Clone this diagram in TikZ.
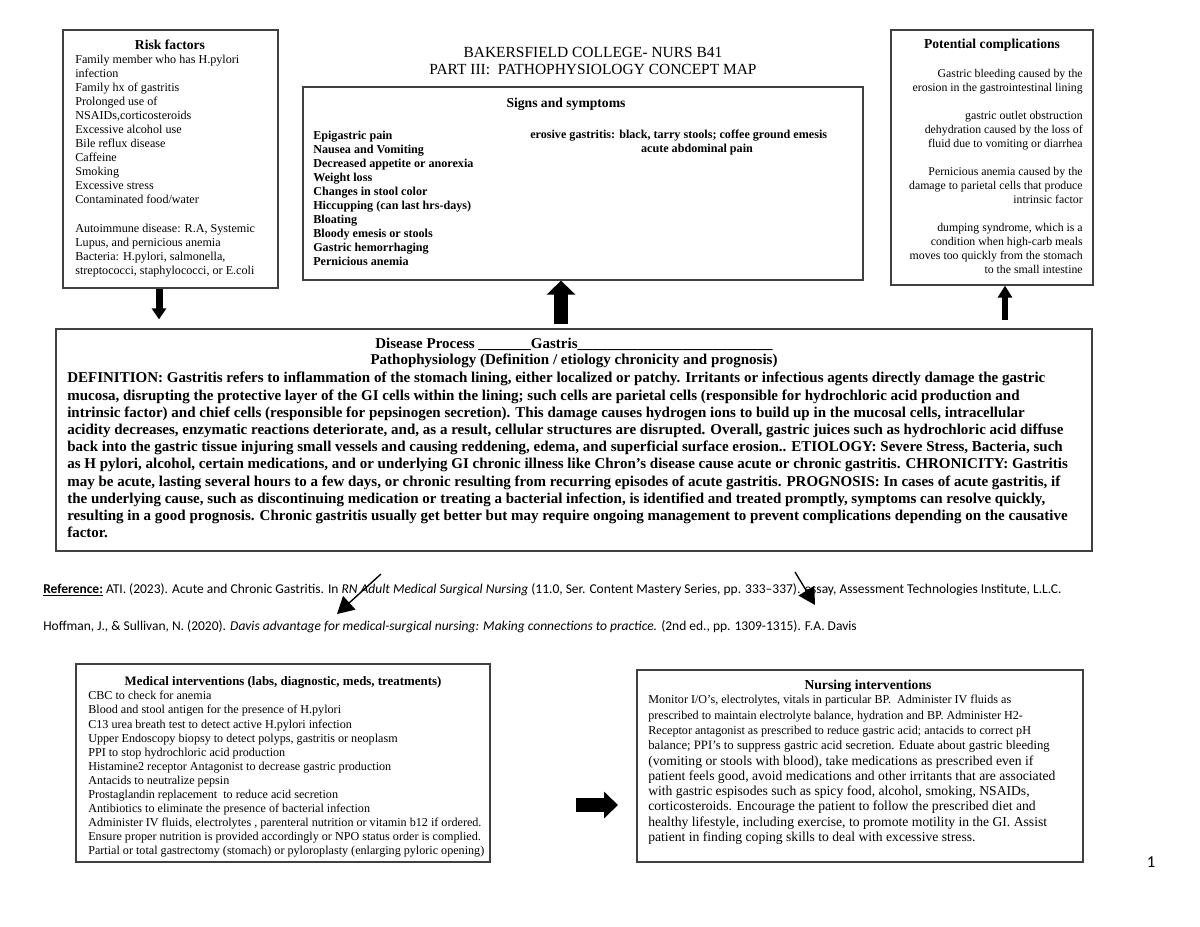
\documentclass[tikz,border=0pt]{standalone}
\usepackage{fontspec}
\setmainfont{Liberation Serif}
\newfontfamily\calibri{Carlito}
\usetikzlibrary{arrows.meta,fit,calc}
\newcommand\setfs[2]{\fontsize{#1}{#2}\selectfont}
\begin{document}
\begin{tikzpicture}[x=0.66pt,y=-0.66pt,
  box/.style={draw=black!75, line width=0.85pt, inner sep=0pt},
  txt/.style={inner sep=0pt, align=left, anchor=north west},
  ttl/.style={inner sep=0pt, font=\bfseries\setfs{9}{10}},
  blkA/.style={line width=4.62pt, -{Triangle[width=9.24pt,length=7.26pt]}},
  blkB/.style={line width=9.24pt, -{Triangle[width=18.5pt,length=9.24pt]}},
  blkC/.style={line width=3.96pt, -{Triangle[width=9.24pt,length=7.9pt]}},
  blkD/.style={line width=8.6pt, -{Triangle[width=17.2pt,length=9.24pt]}},
  thinarr/.style={line width=0.9pt, -{Triangle[width=12pt,length=11pt]}}
]
\useasboundingbox[fill=white] (0,0) rectangle (1200,927);

% ---------- Boxes ----------
\node[box, fit={(63,30)(278,288)}] (risk) {};
\node[box, fit={(303,87)(863,280)}] (signs) {};
\node[box, fit={(891,30)(1093,285)}] (comp) {};
\node[box, fit={(56,329)(1092,551)}] (disease) {};
\node[box, fit={(76,664)(490,862)}] (med) {};
\node[box, fit={(637,670)(1083,862)}] (nurs) {};

% ---------- Title ----------
\node[inner sep=0pt, align=center, font=\setfs{10.2}{10.6}] (title) at (593,61)
  {BAKERSFIELD COLLEGE- NURS B41\\PART III:\ \ PATHOPHYSIOLOGY CONCEPT MAP};

% ---------- Risk factors ----------
\node[ttl] (riskT) at (170,45) {Risk factors};
\node[txt, font=\setfs{8}{9.2}] (riskL) at (75,55)
  {Family member who has H.pylori\\infection\\Family hx of gastritis\\Prolonged use of\\NSAIDs,corticosteroids\\Excessive alcohol use\\Bile reflux disease\\Caffeine\\Smoking\\Excessive stress\\Contaminated food/water\\[10.5pt]
   Autoimmune disease: R.A, Systemic\\Lupus, and pernicious anemia\\Bacteria: H.pylori, salmonella,\\streptococci, staphylococci, or E.coli};

% ---------- Signs and symptoms ----------
\node[ttl] (signsT) at (566,104) {Signs and symptoms};
\node[txt, font=\bfseries\setfs{8}{9.24}] (signsL) at (313,131)
  {Epigastric pain\\Nausea and Vomiting\\Decreased appetite or anorexia\\Weight loss\\Changes in stool color\\Hiccupping (can last hrs-days)\\Bloating\\Bloody emesis or stools\\Gastric hemorrhaging\\Pernicious anemia};
\node[inner sep=0pt, anchor=west, font=\bfseries\setfs{8}{9.24}] (signsR1) at (530,136)
  {erosive gastritis: black, tarry stools; coffee ground emesis};
\node[inner sep=0pt, font=\bfseries\setfs{8}{9.24}] (signsR2) at (697,150) {acute abdominal pain};

% ---------- Potential complications ----------
\node[ttl] (compT) at (992,45) {Potential complications};
\node[inner sep=0pt, align=right, anchor=north east, font=\setfs{7.8}{9.24}] (compL) at (1083,69)
  {Gastric bleeding caused by the\\erosion in the gastrointestinal lining\\[9.24pt]
   gastric outlet obstruction\\dehydration caused by the loss of\\fluid due to vomiting or diarrhea\\[9.24pt]
   Pernicious anemia caused by the\\damage to parietal cells that produce\\intrinsic factor\\[9.24pt]
   dumping syndrome, which is a\\condition when high-carb meals\\moves too quickly from the stomach\\to the small intestine};

% ---------- Disease process ----------
\node[inner sep=0pt, align=center, font=\bfseries\setfs{9.9}{10.6}] (diseaseT) at (574,353)
  {Disease Process \_\_\_\_\_\_\_Gastris\_\_\_\_\_\_\_\_\_\_\_\_\_\_\_\_\_\_\_\_\_\_\_\_\_\_\\Pathophysiology (Definition / etiology chronicity and prognosis)};
\node[txt, font=\bfseries\setfs{9.9}{11.35}] (diseaseL) at (67,372)
  {DEFINITION: Gastritis refers to inflammation of the stomach lining, either localized or patchy. Irritants or infectious agents directly damage the gastric\\
   mucosa, disrupting the protective layer of the GI cells within the lining; such cells are parietal cells (responsible for hydrochloric acid production and\\
   intrinsic factor) and chief cells (responsible for pepsinogen secretion). This damage causes hydrogen ions to build up in the mucosal cells, intracellular\\
   acidity decreases, enzymatic reactions deteriorate, and, as a result, cellular structures are disrupted. Overall, gastric juices such as hydrochloric acid diffuse\\
   back into the gastric tissue injuring small vessels and causing reddening, edema, and superficial surface erosion.. ETIOLOGY: Severe Stress, Bacteria, such\\
   as H pylori, alcohol, certain medications, and or underlying GI chronic illness like Chron’s disease cause acute or chronic gastritis. CHRONICITY: Gastritis\\
   may be acute, lasting several hours to a few days, or chronic resulting from recurring episodes of acute gastritis. PROGNOSIS: In cases of acute gastritis, if\\
   the underlying cause, such as discontinuing medication or treating a bacterial infection, is identified and treated promptly, symptoms can resolve quickly,\\
   resulting in a good prognosis. Chronic gastritis usually get better but may require ongoing management to prevent complications depending on the causative\\
   factor.};

% ---------- References ----------
\node[inner sep=0pt, anchor=west, font=\calibri\setfs{8.9}{10}] (ref1) at (43,590)
  {\underline{\textbf{Reference:}} ATI. (2023). Acute and Chronic Gastritis. In \textit{RN Adult Medical Surgical Nursing} (11.0, Ser. Content Mastery Series, pp. 333–337). essay, Assessment Technologies Institute, L.L.C.};
\node[inner sep=0pt, anchor=west, font=\calibri\setfs{8.9}{10}] (ref2) at (43,627)
  {Hoffman, J., \& Sullivan, N. (2020). \textit{Davis advantage for medical-surgical nursing: Making connections to practice.} (2nd ed., pp. 1309-1315). F.A. Davis};

% ---------- Medical interventions ----------
\node[inner sep=0pt, font=\bfseries\setfs{8.5}{10}] (medT) at (283,682) {Medical interventions (labs, diagnostic, meds, treatments)};
\node[txt, font=\setfs{8}{9.3}] (medL) at (88,691)
  {CBC to check for anemia\\Blood and stool antigen for the presence of H.pylori\\C13 urea breath test to detect active H.pylori infection\\Upper Endoscopy biopsy to detect polyps, gastritis or neoplasm\\PPI to stop hydrochloric acid production\\Histamine2 receptor Antagonist to decrease gastric production\\Antacids to neutralize pepsin\\Prostaglandin replacement\ \ to reduce acid secretion\\Antibiotics to eliminate the presence of bacterial infection\\Administer IV fluids, electrolytes , parenteral nutrition or vitamin b12 if ordered.\\Ensure proper nutrition is provided accordingly or NPO status order is complied.\\Partial or total gastrectomy (stomach) or pyloroplasty (enlarging pyloric opening)};

% ---------- Nursing interventions ----------
\node[ttl] (nursT) at (868,686) {Nursing interventions};
\node[txt, font=\setfs{8}{10.1}] (nursL) at (648,695)
  {Monitor I/O’s, electrolytes, vitals in particular BP.\ \ Administer IV fluids as\\prescribed to maintain electrolyte balance, hydration and BP. Administer H2-\\Receptor antagonist as prescribed to reduce gastric acid; antacids to correct pH\\
   {\setfs{8.4}{10.1}balance; PPI’s to suppress gastric acid secretion. Eduate about gastric bleeding}\\
   {\setfs{9}{10.1}(vomiting or stools with blood), take medications as prescribed even if}\\
   {\setfs{9}{10.1}patient feels good, avoid medications and other irritants that are associated}\\
   {\setfs{9}{10.1}with gastric espisodes such as spicy food, alcohol, smoking, NSAIDs,}\\
   {\setfs{9}{10.1}corticosteroids. Encourage the patient to follow the prescribed diet and}\\
   {\setfs{9}{10.1}healthy lifestyle, including exercise, to promote motility in the GI. Assist}\\
   {\setfs{9}{10.1}patient in finding coping skills to deal with excessive stress.}};

% ---------- Page number ----------
\node[inner sep=0pt, font=\calibri\setfs{11}{12}] (pagenum) at (1151,862) {1};

% ---------- Arrows ----------
\coordinate (c1) at (159,0);
\coordinate (c2) at (561,0);
\coordinate (c3) at (1005,0);
\draw[blkA, shorten >=5.94pt] (risk.south -| c1) -- (disease.north -| c1);
\draw[blkB, shorten <=2.64pt] (disease.north -| c2) -- (signs.south -| c2);
\draw[blkC, shorten <=5.3pt] (disease.north -| c3) -- (comp.south -| c3);
\coordinate (ra1) at (576,805);
\coordinate (ra2) at (618,805);
\draw[blkD] (ra1) -- (ra2);
\coordinate (ta1) at (381,574);
\coordinate (ta2) at (337,614);
\coordinate (tb1) at (795,572);
\coordinate (tb2) at (815,605);
\draw[thinarr] (ta1) -- (ta2);
\draw[thinarr] (tb1) -- (tb2);
\end{tikzpicture}
\end{document}
